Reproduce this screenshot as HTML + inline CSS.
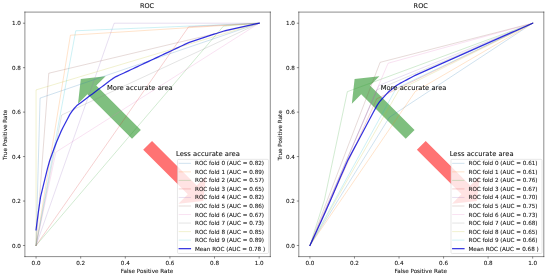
<!DOCTYPE html>
<html><head><meta charset="utf-8"><style>html,body{margin:0;padding:0;background:#fff;width:550px;height:275px;overflow:hidden}svg{display:block}text{text-rendering:geometricPrecision;stroke:#555;stroke-width:0.3px;stroke-opacity:0.5}</style></head><body>
<svg width="550" height="275" viewBox="0 0 975.177305 487.588652" version="1.1">
<defs>
<style type="text/css">*{stroke-linejoin: round; stroke-linecap: butt}</style>
</defs>
<g id="figure_1">
<g id="patch_1">
<path d="M 0 487.588652
L 975.177305 487.588652
L 975.177305 0
L 0 0
z
" style="fill: #ffffff"/>
</g>
<g id="axes_1">
<g id="patch_2">
<path d="M 44.148936 454.964539
L 479.255319 454.964539
L 479.255319 21.453901
L 44.148936 21.453901
z
" style="fill: #ffffff"/>
</g>
<g id="patch_3">
<path d="M 143.235525 139.88212
L 187.287799 135.005374
L 170.645829 151.58631
L 249.75608 230.406426
L 234.093049 246.012013
L 154.982798 167.191897
L 138.340828 183.772833
z
" clip-path="url(#p038cea119d)" style="fill: #008000; opacity: 0.5"/>
</g>
<g id="patch_4">
<path d="M 360.391167 356.241348
L 316.338894 361.118094
L 332.980864 344.537158
L 253.870612 265.717042
L 269.533643 250.111455
L 348.643894 328.931572
L 365.285865 312.350636
z
" clip-path="url(#p038cea119d)" style="fill: #ff0000; opacity: 0.55"/>
</g>
<g id="matplotlib.axis_1">
<g id="xtick_1">
<g id="line2d_1">
<g>
<path d="M 63.926 454.965 L 63.926 458.465" style="stroke: #000000; stroke-width: 0.8"/>
</g>
</g>
<g id="text_1">
<text style="font-size: 10px; font-family: 'DejaVu Sans', 'Liberation Sans', sans-serif; text-anchor: middle" x="63.926499" y="469.562977" transform="rotate(-0 63.926499 469.562977)">0.0</text>
</g>
</g>
<g id="xtick_2">
<g id="line2d_2">
<g>
<path d="M 143.037 454.965 L 143.037 458.465" style="stroke: #000000; stroke-width: 0.8"/>
</g>
</g>
<g id="text_2">
<text style="font-size: 10px; font-family: 'DejaVu Sans', 'Liberation Sans', sans-serif; text-anchor: middle" x="143.03675" y="469.562977" transform="rotate(-0 143.03675 469.562977)">0.2</text>
</g>
</g>
<g id="xtick_3">
<g id="line2d_3">
<g>
<path d="M 222.147 454.965 L 222.147 458.465" style="stroke: #000000; stroke-width: 0.8"/>
</g>
</g>
<g id="text_3">
<text style="font-size: 10px; font-family: 'DejaVu Sans', 'Liberation Sans', sans-serif; text-anchor: middle" x="222.147002" y="469.562977" transform="rotate(-0 222.147002 469.562977)">0.4</text>
</g>
</g>
<g id="xtick_4">
<g id="line2d_4">
<g>
<path d="M 301.257 454.965 L 301.257 458.465" style="stroke: #000000; stroke-width: 0.8"/>
</g>
</g>
<g id="text_4">
<text style="font-size: 10px; font-family: 'DejaVu Sans', 'Liberation Sans', sans-serif; text-anchor: middle" x="301.257253" y="469.562977" transform="rotate(-0 301.257253 469.562977)">0.6</text>
</g>
</g>
<g id="xtick_5">
<g id="line2d_5">
<g>
<path d="M 380.368 454.965 L 380.368 458.465" style="stroke: #000000; stroke-width: 0.8"/>
</g>
</g>
<g id="text_5">
<text style="font-size: 10px; font-family: 'DejaVu Sans', 'Liberation Sans', sans-serif; text-anchor: middle" x="380.367505" y="469.562977" transform="rotate(-0 380.367505 469.562977)">0.8</text>
</g>
</g>
<g id="xtick_6">
<g id="line2d_6">
<g>
<path d="M 459.478 454.965 L 459.478 458.465" style="stroke: #000000; stroke-width: 0.8"/>
</g>
</g>
<g id="text_6">
<text style="font-size: 10px; font-family: 'DejaVu Sans', 'Liberation Sans', sans-serif; text-anchor: middle" x="459.477756" y="469.562977" transform="rotate(-0 459.477756 469.562977)">1.0</text>
</g>
</g>
<g id="text_7">
<text style="font-size: 10px; font-family: 'DejaVu Sans', 'Liberation Sans', sans-serif; text-anchor: middle" x="260.638" y="483.241" transform="rotate(-0 260.638 483.241)">False Positive Rate</text>
</g>
</g>
<g id="matplotlib.axis_2">
<g id="ytick_1">
<g id="line2d_7">
<g>
<path d="M 44.149 435.260 L 40.649 435.260" style="stroke: #000000; stroke-width: 0.8"/>
</g>
</g>
<g id="text_8">
<text style="font-size: 10px; font-family: 'DejaVu Sans', 'Liberation Sans', sans-serif; text-anchor: end" x="37.148936" y="439.058729" transform="rotate(-0 37.148936 439.058729)">0.0</text>
</g>
</g>
<g id="ytick_2">
<g id="line2d_8">
<g>
<path d="M 44.149 356.439 L 40.649 356.439" style="stroke: #000000; stroke-width: 0.8"/>
</g>
</g>
<g id="text_9">
<text style="font-size: 10px; font-family: 'DejaVu Sans', 'Liberation Sans', sans-serif; text-anchor: end" x="37.148936" y="360.238613" transform="rotate(-0 37.148936 360.238613)">0.2</text>
</g>
</g>
<g id="ytick_3">
<g id="line2d_9">
<g>
<path d="M 44.149 277.619 L 40.649 277.619" style="stroke: #000000; stroke-width: 0.8"/>
</g>
</g>
<g id="text_10">
<text style="font-size: 10px; font-family: 'DejaVu Sans', 'Liberation Sans', sans-serif; text-anchor: end" x="37.148936" y="281.418497" transform="rotate(-0 37.148936 281.418497)">0.4</text>
</g>
</g>
<g id="ytick_4">
<g id="line2d_10">
<g>
<path d="M 44.149 198.799 L 40.649 198.799" style="stroke: #000000; stroke-width: 0.8"/>
</g>
</g>
<g id="text_11">
<text style="font-size: 10px; font-family: 'DejaVu Sans', 'Liberation Sans', sans-serif; text-anchor: end" x="37.148936" y="202.598381" transform="rotate(-0 37.148936 202.598381)">0.6</text>
</g>
</g>
<g id="ytick_5">
<g id="line2d_11">
<g>
<path d="M 44.149 119.979 L 40.649 119.979" style="stroke: #000000; stroke-width: 0.8"/>
</g>
</g>
<g id="text_12">
<text style="font-size: 10px; font-family: 'DejaVu Sans', 'Liberation Sans', sans-serif; text-anchor: end" x="37.148936" y="123.778265" transform="rotate(-0 37.148936 123.778265)">0.8</text>
</g>
</g>
<g id="ytick_6">
<g id="line2d_12">
<g>
<path d="M 44.149 41.159 L 40.649 41.159" style="stroke: #000000; stroke-width: 0.8"/>
</g>
</g>
<g id="text_13">
<text style="font-size: 10px; font-family: 'DejaVu Sans', 'Liberation Sans', sans-serif; text-anchor: end" x="37.148936" y="44.958148" transform="rotate(-0 37.148936 44.958148)">1.0</text>
</g>
</g>
<g id="text_14">
<text style="font-size: 10px; font-family: 'DejaVu Sans', 'Liberation Sans', sans-serif; text-anchor: middle" x="12.152" y="239.273" transform="rotate(-90 12.152 239.273)">True Positive Rate</text>
</g>
</g>
<g id="line2d_13">
<path d="M 63.926499 435.25951
L 71.046422 173.970825
L 459.477756 41.15893
" clip-path="url(#p038cea119d)" style="fill: none; stroke: #1f77b4; stroke-opacity: 0.3; stroke-width: 1.25; stroke-linecap: square"/>
</g>
<g id="line2d_14">
<path d="M 63.926499 435.25951
L 124.841393 62.440361
L 459.477756 41.15893
" clip-path="url(#p038cea119d)" style="fill: none; stroke: #ff7f0e; stroke-opacity: 0.3; stroke-width: 1.25; stroke-linecap: square"/>
</g>
<g id="line2d_15">
<path d="M 63.926499 435.25951
L 396.189555 46.282237
L 459.477756 41.15893
" clip-path="url(#p038cea119d)" style="fill: none; stroke: #2ca02c; stroke-opacity: 0.3; stroke-width: 1.25; stroke-linecap: square"/>
</g>
<g id="line2d_16">
<path d="M 63.926499 435.25951
L 334.483559 47.464539
L 459.477756 41.15893
" clip-path="url(#p038cea119d)" style="fill: none; stroke: #d62728; stroke-opacity: 0.3; stroke-width: 1.25; stroke-linecap: square"/>
</g>
<g id="line2d_17">
<path d="M 63.926499 435.25951
L 202.369439 41.15893
L 459.477756 41.15893
" clip-path="url(#p038cea119d)" style="fill: none; stroke: #9467bd; stroke-opacity: 0.3; stroke-width: 1.25; stroke-linecap: square"/>
</g>
<g id="line2d_18">
<path d="M 63.926499 435.25951
L 86.472921 129.83156
L 459.477756 41.15893
" clip-path="url(#p038cea119d)" style="fill: none; stroke: #8c564b; stroke-opacity: 0.3; stroke-width: 1.25; stroke-linecap: square"/>
</g>
<g id="line2d_19">
<path d="M 63.926499 435.25951
L 99.130561 269.737266
L 459.477756 41.15893
" clip-path="url(#p038cea119d)" style="fill: none; stroke: #e377c2; stroke-opacity: 0.3; stroke-width: 1.25; stroke-linecap: square"/>
</g>
<g id="line2d_20">
<path d="M 63.926499 435.25951
L 109.414894 203.922469
L 459.477756 41.15893
" clip-path="url(#p038cea119d)" style="fill: none; stroke: #7f7f7f; stroke-opacity: 0.3; stroke-width: 1.25; stroke-linecap: square"/>
</g>
<g id="line2d_21">
<path d="M 63.926499 435.25951
L 63.926499 159.389104
L 459.477756 41.15893
" clip-path="url(#p038cea119d)" style="fill: none; stroke: #bcbd22; stroke-opacity: 0.3; stroke-width: 1.25; stroke-linecap: square"/>
</g>
<g id="line2d_22">
<path d="M 63.926499 435.25951
L 134.334623 54.558349
L 459.477756 41.15893
" clip-path="url(#p038cea119d)" style="fill: none; stroke: #17becf; stroke-opacity: 0.3; stroke-width: 1.25; stroke-linecap: square"/>
</g>
<g id="line2d_23">
<path d="M 63.926499 407.672469
L 67.921966 376.783807
L 71.917434 349.061824
L 75.912901 332.699213
L 79.908368 316.336603
L 83.903835 299.973993
L 87.899303 285.50974
L 91.89477 274.464658
L 95.890237 263.419575
L 99.885704 252.681645
L 103.881171 243.261705
L 107.876639 233.841765
L 111.872106 225.557223
L 115.867573 217.983458
L 119.86304 210.409692
L 123.858508 202.835927
L 127.853975 197.086803
L 131.849442 191.932985
L 135.844909 187.589565
L 139.840377 184.579656
L 143.835844 181.569747
L 147.831311 178.559838
L 151.826778 175.54993
L 155.822246 172.540021
L 159.817713 169.530112
L 163.81318 166.520203
L 167.808647 163.510294
L 171.804115 160.500385
L 175.799582 157.490477
L 179.795049 154.480568
L 183.790516 151.470659
L 187.785984 148.46075
L 191.781451 145.450841
L 195.776918 142.440932
L 199.772385 139.431023
L 203.767853 136.819196
L 207.76332 134.946663
L 211.758787 133.074129
L 215.754254 131.201596
L 219.749722 129.329062
L 223.745189 127.456529
L 227.740656 125.583995
L 231.736123 123.711462
L 235.731591 121.838929
L 239.727058 119.966395
L 243.722525 118.093862
L 247.717992 116.221328
L 251.71346 114.348795
L 255.708927 112.476261
L 259.704394 110.603728
L 263.699861 108.731195
L 267.695329 106.858661
L 271.690796 104.986128
L 275.686263 103.113594
L 279.68173 101.241061
L 283.677198 99.368527
L 287.672665 97.495994
L 291.668132 95.623461
L 295.663599 93.750927
L 299.659066 91.878394
L 303.654534 90.00586
L 307.650001 88.133327
L 311.645468 86.260793
L 315.640935 84.38826
L 319.636403 82.515727
L 323.63187 80.643193
L 327.627337 78.77066
L 331.622804 76.898126
L 335.618272 75.182509
L 339.613739 73.862498
L 343.609206 72.542487
L 347.604673 71.222476
L 351.600141 69.902465
L 355.595608 68.582454
L 359.591075 67.262443
L 363.586542 65.942432
L 367.58201 64.622422
L 371.577477 63.302411
L 375.572944 61.9824
L 379.568411 60.662389
L 383.563879 59.342378
L 387.559346 58.022367
L 391.554813 56.702356
L 395.55028 55.382345
L 399.545748 54.428071
L 403.541215 53.543462
L 407.536682 52.658852
L 411.532149 51.774243
L 415.527617 50.889633
L 419.523084 50.005024
L 423.518551 49.120415
L 427.514018 48.235805
L 431.509486 47.351196
L 435.504953 46.466586
L 439.50042 45.581977
L 443.495887 44.697367
L 447.491355 43.812758
L 451.486822 42.928149
L 455.482289 42.043539
L 459.477756 41.15893
" clip-path="url(#p038cea119d)" style="fill: none; stroke: #0000d8; stroke-opacity: 0.8; stroke-width: 2.2; stroke-linecap: square"/>
</g>
<g id="patch_5">
<path d="M 44.148936 454.964539
L 44.148936 21.453901
" style="fill: none; stroke: #000000; stroke-width: 0.8; stroke-linejoin: miter; stroke-linecap: square"/>
</g>
<g id="patch_6">
<path d="M 479.255319 454.964539
L 479.255319 21.453901
" style="fill: none; stroke: #000000; stroke-width: 0.8; stroke-linejoin: miter; stroke-linecap: square"/>
</g>
<g id="patch_7">
<path d="M 44.148936 454.964539
L 479.255319 454.964539
" style="fill: none; stroke: #000000; stroke-width: 0.8; stroke-linejoin: miter; stroke-linecap: square"/>
</g>
<g id="patch_8">
<path d="M 44.148936 21.453901
L 479.255319 21.453901
" style="fill: none; stroke: #000000; stroke-width: 0.8; stroke-linejoin: miter; stroke-linecap: square"/>
</g>
<g id="text_15">
<text style="font-size: 12px; font-family: 'DejaVu Sans', 'Liberation Sans', sans-serif; text-anchor: start" x="189.616" y="159.389" transform="rotate(-0 189.616 159.389)">More accurate area</text>
</g>
<g id="text_16">
<text style="font-size: 12px; font-family: 'DejaVu Sans', 'Liberation Sans', sans-serif; text-anchor: start" x="312.060" y="276.201" transform="rotate(-0 312.060 276.201)">Less accurate area</text>
</g>
<g id="text_17">
<text style="font-size: 11.5px; font-family: 'DejaVu Sans', 'Liberation Sans', sans-serif; text-anchor: middle" x="260.638" y="14.745" transform="rotate(-0 260.638 14.745)">ROC</text>
</g>
<g id="legend_1">
<g id="patch_9">
<path d="M 316.698 449.467624
L 474.066 449.467624
Q 476.066 449.467624 476.066 447.467624
L 476.066 284.508249
Q 476.066 282.508249 474.066 282.508249
L 316.698 282.508249
Q 314.698 282.508249 314.698 284.508249
L 314.698 447.467624
Q 314.698 449.467624 316.698 449.467624
z
" style="fill: #ffffff; opacity: 0.8; stroke: #cccccc; stroke-linejoin: miter"/>
</g>
<g id="line2d_24">
<path d="M 317.697846 289.606687
L 327.697846 289.606687
L 337.697846 289.606687
" style="fill: none; stroke: #1f77b4; stroke-opacity: 0.3; stroke-width: 1.25; stroke-linecap: square"/>
</g>
<g id="text_18">
<text style="font-size: 10px; font-family: 'DejaVu Sans', 'Liberation Sans', sans-serif; text-anchor: start" x="345.697846" y="293.106687" transform="rotate(-0 345.697846 293.106687)">ROC fold 0 (AUC = 0.82)</text>
</g>
<g id="line2d_25">
<path d="M 317.697846 304.734812
L 327.697846 304.734812
L 337.697846 304.734812
" style="fill: none; stroke: #ff7f0e; stroke-opacity: 0.3; stroke-width: 1.25; stroke-linecap: square"/>
</g>
<g id="text_19">
<text style="font-size: 10px; font-family: 'DejaVu Sans', 'Liberation Sans', sans-serif; text-anchor: start" x="345.697846" y="308.234812" transform="rotate(-0 345.697846 308.234812)">ROC fold 1 (AUC = 0.89)</text>
</g>
<g id="line2d_26">
<path d="M 317.697846 319.862937
L 327.697846 319.862937
L 337.697846 319.862937
" style="fill: none; stroke: #2ca02c; stroke-opacity: 0.3; stroke-width: 1.25; stroke-linecap: square"/>
</g>
<g id="text_20">
<text style="font-size: 10px; font-family: 'DejaVu Sans', 'Liberation Sans', sans-serif; text-anchor: start" x="345.697846" y="323.362937" transform="rotate(-0 345.697846 323.362937)">ROC fold 2 (AUC = 0.57)</text>
</g>
<g id="line2d_27">
<path d="M 317.697846 334.991062
L 327.697846 334.991062
L 337.697846 334.991062
" style="fill: none; stroke: #d62728; stroke-opacity: 0.3; stroke-width: 1.25; stroke-linecap: square"/>
</g>
<g id="text_21">
<text style="font-size: 10px; font-family: 'DejaVu Sans', 'Liberation Sans', sans-serif; text-anchor: start" x="345.697846" y="338.491062" transform="rotate(-0 345.697846 338.491062)">ROC fold 3 (AUC = 0.65)</text>
</g>
<g id="line2d_28">
<path d="M 317.697846 350.119187
L 327.697846 350.119187
L 337.697846 350.119187
" style="fill: none; stroke: #9467bd; stroke-opacity: 0.3; stroke-width: 1.25; stroke-linecap: square"/>
</g>
<g id="text_22">
<text style="font-size: 10px; font-family: 'DejaVu Sans', 'Liberation Sans', sans-serif; text-anchor: start" x="345.697846" y="353.619187" transform="rotate(-0 345.697846 353.619187)">ROC fold 4 (AUC = 0.82)</text>
</g>
<g id="line2d_29">
<path d="M 317.697846 365.247312
L 327.697846 365.247312
L 337.697846 365.247312
" style="fill: none; stroke: #8c564b; stroke-opacity: 0.3; stroke-width: 1.25; stroke-linecap: square"/>
</g>
<g id="text_23">
<text style="font-size: 10px; font-family: 'DejaVu Sans', 'Liberation Sans', sans-serif; text-anchor: start" x="345.697846" y="368.747312" transform="rotate(-0 345.697846 368.747312)">ROC fold 5 (AUC = 0.86)</text>
</g>
<g id="line2d_30">
<path d="M 317.697846 380.375437
L 327.697846 380.375437
L 337.697846 380.375437
" style="fill: none; stroke: #e377c2; stroke-opacity: 0.3; stroke-width: 1.25; stroke-linecap: square"/>
</g>
<g id="text_24">
<text style="font-size: 10px; font-family: 'DejaVu Sans', 'Liberation Sans', sans-serif; text-anchor: start" x="345.697846" y="383.875437" transform="rotate(-0 345.697846 383.875437)">ROC fold 6 (AUC = 0.67)</text>
</g>
<g id="line2d_31">
<path d="M 317.697846 395.503562
L 327.697846 395.503562
L 337.697846 395.503562
" style="fill: none; stroke: #7f7f7f; stroke-opacity: 0.3; stroke-width: 1.25; stroke-linecap: square"/>
</g>
<g id="text_25">
<text style="font-size: 10px; font-family: 'DejaVu Sans', 'Liberation Sans', sans-serif; text-anchor: start" x="345.697846" y="399.003562" transform="rotate(-0 345.697846 399.003562)">ROC fold 7 (AUC = 0.73)</text>
</g>
<g id="line2d_32">
<path d="M 317.697846 410.631687
L 327.697846 410.631687
L 337.697846 410.631687
" style="fill: none; stroke: #bcbd22; stroke-opacity: 0.3; stroke-width: 1.25; stroke-linecap: square"/>
</g>
<g id="text_26">
<text style="font-size: 10px; font-family: 'DejaVu Sans', 'Liberation Sans', sans-serif; text-anchor: start" x="345.697846" y="414.131687" transform="rotate(-0 345.697846 414.131687)">ROC fold 8 (AUC = 0.85)</text>
</g>
<g id="line2d_33">
<path d="M 317.697846 425.759812
L 327.697846 425.759812
L 337.697846 425.759812
" style="fill: none; stroke: #17becf; stroke-opacity: 0.3; stroke-width: 1.25; stroke-linecap: square"/>
</g>
<g id="text_27">
<text style="font-size: 10px; font-family: 'DejaVu Sans', 'Liberation Sans', sans-serif; text-anchor: start" x="345.697846" y="429.259812" transform="rotate(-0 345.697846 429.259812)">ROC fold 9 (AUC = 0.89)</text>
</g>
<g id="line2d_34">
<path d="M 317.697846 440.887937
L 327.697846 440.887937
L 337.697846 440.887937
" style="fill: none; stroke: #0000d8; stroke-opacity: 0.8; stroke-width: 2.2; stroke-linecap: square"/>
</g>
<g id="text_28">
<text style="font-size: 10px; font-family: 'DejaVu Sans', 'Liberation Sans', sans-serif; text-anchor: start" x="345.697846" y="444.387937" transform="rotate(-0 345.697846 444.387937)">Mean ROC (AUC = 0.78 )</text>
</g>
</g>
</g>
<g id="axes_2">
<g id="patch_10">
<path d="M 529.787234 454.964539
L 964.184397 454.964539
L 964.184397 21.453901
L 529.787234 21.453901
z
" style="fill: #ffffff"/>
</g>
<g id="patch_11">
<path d="M 628.712313 139.88212
L 672.692781 135.005374
L 656.077938 151.58631
L 735.05924 230.406426
L 719.42174 246.012013
L 640.440438 167.191897
L 623.825594 183.772833
z
" clip-path="url(#pa79ba5403b)" style="fill: #008000; opacity: 0.5"/>
</g>
<g id="patch_12">
<path d="M 845.513993 356.241348
L 801.533524 361.118094
L 818.148368 344.537158
L 739.167066 265.717042
L 754.804566 250.111455
L 833.785868 328.931572
L 850.400712 312.350636
z
" clip-path="url(#pa79ba5403b)" style="fill: #ff0000; opacity: 0.55"/>
</g>
<g id="matplotlib.axis_3">
<g id="xtick_7">
<g id="line2d_35">
<g>
<path d="M 549.533 454.965 L 549.533 458.465" style="stroke: #000000; stroke-width: 0.8"/>
</g>
</g>
<g id="text_29">
<text style="font-size: 10px; font-family: 'DejaVu Sans', 'Liberation Sans', sans-serif; text-anchor: middle" x="549.53256" y="469.562977" transform="rotate(-0 549.53256 469.562977)">0.0</text>
</g>
</g>
<g id="xtick_8">
<g id="line2d_36">
<g>
<path d="M 628.514 454.965 L 628.514 458.465" style="stroke: #000000; stroke-width: 0.8"/>
</g>
</g>
<g id="text_30">
<text style="font-size: 10px; font-family: 'DejaVu Sans', 'Liberation Sans', sans-serif; text-anchor: middle" x="628.513862" y="469.562977" transform="rotate(-0 628.513862 469.562977)">0.2</text>
</g>
</g>
<g id="xtick_9">
<g id="line2d_37">
<g>
<path d="M 707.495 454.965 L 707.495 458.465" style="stroke: #000000; stroke-width: 0.8"/>
</g>
</g>
<g id="text_31">
<text style="font-size: 10px; font-family: 'DejaVu Sans', 'Liberation Sans', sans-serif; text-anchor: middle" x="707.495164" y="469.562977" transform="rotate(-0 707.495164 469.562977)">0.4</text>
</g>
</g>
<g id="xtick_10">
<g id="line2d_38">
<g>
<path d="M 786.476 454.965 L 786.476 458.465" style="stroke: #000000; stroke-width: 0.8"/>
</g>
</g>
<g id="text_32">
<text style="font-size: 10px; font-family: 'DejaVu Sans', 'Liberation Sans', sans-serif; text-anchor: middle" x="786.476467" y="469.562977" transform="rotate(-0 786.476467 469.562977)">0.6</text>
</g>
</g>
<g id="xtick_11">
<g id="line2d_39">
<g>
<path d="M 865.458 454.965 L 865.458 458.465" style="stroke: #000000; stroke-width: 0.8"/>
</g>
</g>
<g id="text_33">
<text style="font-size: 10px; font-family: 'DejaVu Sans', 'Liberation Sans', sans-serif; text-anchor: middle" x="865.457769" y="469.562977" transform="rotate(-0 865.457769 469.562977)">0.8</text>
</g>
</g>
<g id="xtick_12">
<g id="line2d_40">
<g>
<path d="M 944.439 454.965 L 944.439 458.465" style="stroke: #000000; stroke-width: 0.8"/>
</g>
</g>
<g id="text_34">
<text style="font-size: 10px; font-family: 'DejaVu Sans', 'Liberation Sans', sans-serif; text-anchor: middle" x="944.439072" y="469.562977" transform="rotate(-0 944.439072 469.562977)">1.0</text>
</g>
</g>
<g id="text_35">
<text style="font-size: 10px; font-family: 'DejaVu Sans', 'Liberation Sans', sans-serif; text-anchor: middle" x="745.922" y="483.241" transform="rotate(-0 745.922 483.241)">False Positive Rate</text>
</g>
</g>
<g id="matplotlib.axis_4">
<g id="ytick_7">
<g id="line2d_41">
<g>
<path d="M 529.787 435.260 L 526.287 435.260" style="stroke: #000000; stroke-width: 0.8"/>
</g>
</g>
<g id="text_36">
<text style="font-size: 10px; font-family: 'DejaVu Sans', 'Liberation Sans', sans-serif; text-anchor: end" x="522.787234" y="439.058729" transform="rotate(-0 522.787234 439.058729)">0.0</text>
</g>
</g>
<g id="ytick_8">
<g id="line2d_42">
<g>
<path d="M 529.787 356.439 L 526.287 356.439" style="stroke: #000000; stroke-width: 0.8"/>
</g>
</g>
<g id="text_37">
<text style="font-size: 10px; font-family: 'DejaVu Sans', 'Liberation Sans', sans-serif; text-anchor: end" x="522.787234" y="360.238613" transform="rotate(-0 522.787234 360.238613)">0.2</text>
</g>
</g>
<g id="ytick_9">
<g id="line2d_43">
<g>
<path d="M 529.787 277.619 L 526.287 277.619" style="stroke: #000000; stroke-width: 0.8"/>
</g>
</g>
<g id="text_38">
<text style="font-size: 10px; font-family: 'DejaVu Sans', 'Liberation Sans', sans-serif; text-anchor: end" x="522.787234" y="281.418497" transform="rotate(-0 522.787234 281.418497)">0.4</text>
</g>
</g>
<g id="ytick_10">
<g id="line2d_44">
<g>
<path d="M 529.787 198.799 L 526.287 198.799" style="stroke: #000000; stroke-width: 0.8"/>
</g>
</g>
<g id="text_39">
<text style="font-size: 10px; font-family: 'DejaVu Sans', 'Liberation Sans', sans-serif; text-anchor: end" x="522.787234" y="202.598381" transform="rotate(-0 522.787234 202.598381)">0.6</text>
</g>
</g>
<g id="ytick_11">
<g id="line2d_45">
<g>
<path d="M 529.787 119.979 L 526.287 119.979" style="stroke: #000000; stroke-width: 0.8"/>
</g>
</g>
<g id="text_40">
<text style="font-size: 10px; font-family: 'DejaVu Sans', 'Liberation Sans', sans-serif; text-anchor: end" x="522.787234" y="123.778265" transform="rotate(-0 522.787234 123.778265)">0.8</text>
</g>
</g>
<g id="ytick_12">
<g id="line2d_46">
<g>
<path d="M 529.787 41.159 L 526.287 41.159" style="stroke: #000000; stroke-width: 0.8"/>
</g>
</g>
<g id="text_41">
<text style="font-size: 10px; font-family: 'DejaVu Sans', 'Liberation Sans', sans-serif; text-anchor: end" x="522.787234" y="44.958148" transform="rotate(-0 522.787234 44.958148)">1.0</text>
</g>
</g>
<g id="text_42">
<text style="font-size: 10px; font-family: 'DejaVu Sans', 'Liberation Sans', sans-serif; text-anchor: middle" x="500.095" y="239.982" transform="rotate(-90 500.095 239.982)">True Positive Rate</text>
</g>
</g>
<g id="line2d_47">
<path d="M 549.53256 435.25951
L 690.514184 207.863475
L 944.439072 41.15893
" clip-path="url(#pa79ba5403b)" style="fill: none; stroke: #1f77b4; stroke-opacity: 0.3; stroke-width: 1.25; stroke-linecap: square"/>
</g>
<g id="line2d_48">
<path d="M 549.53256 435.25951
L 736.32334 162.147808
L 944.439072 41.15893
" clip-path="url(#pa79ba5403b)" style="fill: none; stroke: #ff7f0e; stroke-opacity: 0.3; stroke-width: 1.25; stroke-linecap: square"/>
</g>
<g id="line2d_49">
<path d="M 549.53256 435.25951
L 575.201483 354.468891
L 615.876854 162.541908
L 944.439072 41.15893
" clip-path="url(#pa79ba5403b)" style="fill: none; stroke: #2ca02c; stroke-opacity: 0.3; stroke-width: 1.25; stroke-linecap: square"/>
</g>
<g id="line2d_50">
<path d="M 549.53256 435.25951
L 668.004513 175.153127
L 944.439072 41.15893
" clip-path="url(#pa79ba5403b)" style="fill: none; stroke: #d62728; stroke-opacity: 0.3; stroke-width: 1.25; stroke-linecap: square"/>
</g>
<g id="line2d_51">
<path d="M 549.53256 435.25951
L 671.953578 151.507092
L 944.439072 41.15893
" clip-path="url(#pa79ba5403b)" style="fill: none; stroke: #9467bd; stroke-opacity: 0.3; stroke-width: 1.25; stroke-linecap: square"/>
</g>
<g id="line2d_52">
<path d="M 549.53256 435.25951
L 673.928111 110.520632
L 944.439072 41.15893
" clip-path="url(#pa79ba5403b)" style="fill: none; stroke: #8c564b; stroke-opacity: 0.3; stroke-width: 1.25; stroke-linecap: square"/>
</g>
<g id="line2d_53">
<path d="M 549.53256 435.25951
L 688.144745 112.097034
L 944.439072 41.15893
" clip-path="url(#pa79ba5403b)" style="fill: none; stroke: #e377c2; stroke-opacity: 0.3; stroke-width: 1.25; stroke-linecap: square"/>
</g>
<g id="line2d_54">
<path d="M 549.53256 435.25951
L 668.004513 159.389104
L 944.439072 41.15893
" clip-path="url(#pa79ba5403b)" style="fill: none; stroke: #7f7f7f; stroke-opacity: 0.3; stroke-width: 1.25; stroke-linecap: square"/>
</g>
<g id="line2d_55">
<path d="M 549.53256 435.25951
L 707.495164 159.389104
L 944.439072 41.15893
" clip-path="url(#pa79ba5403b)" style="fill: none; stroke: #bcbd22; stroke-opacity: 0.3; stroke-width: 1.25; stroke-linecap: square"/>
</g>
<g id="line2d_56">
<path d="M 549.53256 435.25951
L 702.36138 156.6304
L 944.439072 41.15893
" clip-path="url(#pa79ba5403b)" style="fill: none; stroke: #17becf; stroke-opacity: 0.3; stroke-width: 1.25; stroke-linecap: square"/>
</g>
<g id="line2d_57">
<path d="M 549.53256 435.25951
L 553.521514 426.65297
L 557.510469 418.046429
L 561.499424 409.439889
L 565.488378 400.833349
L 569.477333 392.226808
L 573.466288 383.620268
L 577.455242 374.659641
L 581.444197 365.426397
L 585.433152 356.193154
L 589.422106 346.95991
L 593.411061 337.726667
L 597.400016 328.493423
L 601.38897 319.26018
L 605.377925 310.026936
L 609.36688 300.793693
L 613.355834 291.560449
L 617.344789 282.965621
L 621.333744 275.467201
L 625.322698 267.968782
L 629.311653 260.470362
L 633.300608 252.971943
L 637.289562 245.473523
L 641.278517 237.975104
L 645.267472 230.476684
L 649.256426 222.978265
L 653.245381 215.479845
L 657.234336 207.981426
L 661.22329 200.483006
L 665.212245 192.984587
L 669.2012 185.91837
L 673.190154 180.097167
L 677.179109 175.567784
L 681.168064 171.212126
L 685.157018 166.856467
L 689.145973 162.706524
L 693.134928 159.421106
L 697.123882 156.266549
L 701.112837 153.111992
L 705.101792 150.326333
L 709.090746 147.907787
L 713.079701 145.787802
L 717.068656 143.667817
L 721.05761 141.547832
L 725.046565 139.427847
L 729.03552 137.307862
L 733.024474 135.187877
L 737.013429 133.128673
L 741.002384 131.360024
L 744.991338 129.591375
L 748.980293 127.822726
L 752.969248 126.054077
L 756.958202 124.285428
L 760.947157 122.51678
L 764.936112 120.748131
L 768.925066 118.979482
L 772.914021 117.210833
L 776.902976 115.442184
L 780.89193 113.673535
L 784.880885 111.904886
L 788.86984 110.136237
L 792.858794 108.367588
L 796.847749 106.598939
L 800.836704 104.83029
L 804.825658 103.061642
L 808.814613 101.292993
L 812.803568 99.524344
L 816.792522 97.755695
L 820.781477 95.987046
L 824.770432 94.218397
L 828.759386 92.449748
L 832.748341 90.681099
L 836.737296 88.91245
L 840.72625 87.143801
L 844.715205 85.375152
L 848.70416 83.606504
L 852.693114 81.837855
L 856.682069 80.069206
L 860.671024 78.300557
L 864.659978 76.531908
L 868.648933 74.763259
L 872.637888 72.99461
L 876.626842 71.225961
L 880.615797 69.457312
L 884.604752 67.688663
L 888.593706 65.920014
L 892.582661 64.151366
L 896.571616 62.382717
L 900.56057 60.614068
L 904.549525 58.845419
L 908.53848 57.07677
L 912.527434 55.308121
L 916.516389 53.539472
L 920.505344 51.770823
L 924.494298 50.002174
L 928.483253 48.233525
L 932.472208 46.464876
L 936.461162 44.696228
L 940.450117 42.927579
L 944.439072 41.15893
" clip-path="url(#pa79ba5403b)" style="fill: none; stroke: #0000d8; stroke-opacity: 0.8; stroke-width: 2.2; stroke-linecap: square"/>
</g>
<g id="patch_13">
<path d="M 529.787234 454.964539
L 529.787234 21.453901
" style="fill: none; stroke: #000000; stroke-width: 0.8; stroke-linejoin: miter; stroke-linecap: square"/>
</g>
<g id="patch_14">
<path d="M 964.184397 454.964539
L 964.184397 21.453901
" style="fill: none; stroke: #000000; stroke-width: 0.8; stroke-linejoin: miter; stroke-linecap: square"/>
</g>
<g id="patch_15">
<path d="M 529.787234 454.964539
L 964.184397 454.964539
" style="fill: none; stroke: #000000; stroke-width: 0.8; stroke-linejoin: miter; stroke-linecap: square"/>
</g>
<g id="patch_16">
<path d="M 529.787234 21.453901
L 964.184397 21.453901
" style="fill: none; stroke: #000000; stroke-width: 0.8; stroke-linejoin: miter; stroke-linecap: square"/>
</g>
<g id="text_43">
<text style="font-size: 12px; font-family: 'DejaVu Sans', 'Liberation Sans', sans-serif; text-anchor: start" x="675.016" y="159.389" transform="rotate(-0 675.016 159.389)">More accurate area</text>
</g>
<g id="text_44">
<text style="font-size: 12px; font-family: 'DejaVu Sans', 'Liberation Sans', sans-serif; text-anchor: start" x="797.260" y="276.201" transform="rotate(-0 797.260 276.201)">Less accurate area</text>
</g>
<g id="text_45">
<text style="font-size: 11.5px; font-family: 'DejaVu Sans', 'Liberation Sans', sans-serif; text-anchor: middle" x="745.922" y="14.745" transform="rotate(-0 745.922 14.745)">ROC</text>
</g>
<g id="legend_2">
<g id="patch_17">
<path d="M 801.637 449.467624
L 959.005 449.467624
Q 961.005 449.467624 961.005 447.467624
L 961.005 284.508249
Q 961.005 282.508249 959.005 282.508249
L 801.637 282.508249
Q 799.637 282.508249 799.637 284.508249
L 799.637 447.467624
Q 799.637 449.467624 801.637 449.467624
z
" style="fill: #ffffff; opacity: 0.8; stroke: #cccccc; stroke-linejoin: miter"/>
</g>
<g id="line2d_58">
<path d="M 802.636746 289.606687
L 812.636746 289.606687
L 822.636746 289.606687
" style="fill: none; stroke: #1f77b4; stroke-opacity: 0.3; stroke-width: 1.25; stroke-linecap: square"/>
</g>
<g id="text_46">
<text style="font-size: 10px; font-family: 'DejaVu Sans', 'Liberation Sans', sans-serif; text-anchor: start" x="830.636746" y="293.106687" transform="rotate(-0 830.636746 293.106687)">ROC fold 0 (AUC = 0.61)</text>
</g>
<g id="line2d_59">
<path d="M 802.636746 304.734812
L 812.636746 304.734812
L 822.636746 304.734812
" style="fill: none; stroke: #ff7f0e; stroke-opacity: 0.3; stroke-width: 1.25; stroke-linecap: square"/>
</g>
<g id="text_47">
<text style="font-size: 10px; font-family: 'DejaVu Sans', 'Liberation Sans', sans-serif; text-anchor: start" x="830.636746" y="308.234812" transform="rotate(-0 830.636746 308.234812)">ROC fold 1 (AUC = 0.61)</text>
</g>
<g id="line2d_60">
<path d="M 802.636746 319.862937
L 812.636746 319.862937
L 822.636746 319.862937
" style="fill: none; stroke: #2ca02c; stroke-opacity: 0.3; stroke-width: 1.25; stroke-linecap: square"/>
</g>
<g id="text_48">
<text style="font-size: 10px; font-family: 'DejaVu Sans', 'Liberation Sans', sans-serif; text-anchor: start" x="830.636746" y="323.362937" transform="rotate(-0 830.636746 323.362937)">ROC fold 2 (AUC = 0.76)</text>
</g>
<g id="line2d_61">
<path d="M 802.636746 334.991062
L 812.636746 334.991062
L 822.636746 334.991062
" style="fill: none; stroke: #d62728; stroke-opacity: 0.3; stroke-width: 1.25; stroke-linecap: square"/>
</g>
<g id="text_49">
<text style="font-size: 10px; font-family: 'DejaVu Sans', 'Liberation Sans', sans-serif; text-anchor: start" x="830.636746" y="338.491062" transform="rotate(-0 830.636746 338.491062)">ROC fold 3 (AUC = 0.67)</text>
</g>
<g id="line2d_62">
<path d="M 802.636746 350.119187
L 812.636746 350.119187
L 822.636746 350.119187
" style="fill: none; stroke: #9467bd; stroke-opacity: 0.3; stroke-width: 1.25; stroke-linecap: square"/>
</g>
<g id="text_50">
<text style="font-size: 10px; font-family: 'DejaVu Sans', 'Liberation Sans', sans-serif; text-anchor: start" x="830.636746" y="353.619187" transform="rotate(-0 830.636746 353.619187)">ROC fold 4 (AUC = 0.70)</text>
</g>
<g id="line2d_63">
<path d="M 802.636746 365.247312
L 812.636746 365.247312
L 822.636746 365.247312
" style="fill: none; stroke: #8c564b; stroke-opacity: 0.3; stroke-width: 1.25; stroke-linecap: square"/>
</g>
<g id="text_51">
<text style="font-size: 10px; font-family: 'DejaVu Sans', 'Liberation Sans', sans-serif; text-anchor: start" x="830.636746" y="368.747312" transform="rotate(-0 830.636746 368.747312)">ROC fold 5 (AUC = 0.75)</text>
</g>
<g id="line2d_64">
<path d="M 802.636746 380.375437
L 812.636746 380.375437
L 822.636746 380.375437
" style="fill: none; stroke: #e377c2; stroke-opacity: 0.3; stroke-width: 1.25; stroke-linecap: square"/>
</g>
<g id="text_52">
<text style="font-size: 10px; font-family: 'DejaVu Sans', 'Liberation Sans', sans-serif; text-anchor: start" x="830.636746" y="383.875437" transform="rotate(-0 830.636746 383.875437)">ROC fold 6 (AUC = 0.73)</text>
</g>
<g id="line2d_65">
<path d="M 802.636746 395.503562
L 812.636746 395.503562
L 822.636746 395.503562
" style="fill: none; stroke: #7f7f7f; stroke-opacity: 0.3; stroke-width: 1.25; stroke-linecap: square"/>
</g>
<g id="text_53">
<text style="font-size: 10px; font-family: 'DejaVu Sans', 'Liberation Sans', sans-serif; text-anchor: start" x="830.636746" y="399.003562" transform="rotate(-0 830.636746 399.003562)">ROC fold 7 (AUC = 0.68)</text>
</g>
<g id="line2d_66">
<path d="M 802.636746 410.631687
L 812.636746 410.631687
L 822.636746 410.631687
" style="fill: none; stroke: #bcbd22; stroke-opacity: 0.3; stroke-width: 1.25; stroke-linecap: square"/>
</g>
<g id="text_54">
<text style="font-size: 10px; font-family: 'DejaVu Sans', 'Liberation Sans', sans-serif; text-anchor: start" x="830.636746" y="414.131687" transform="rotate(-0 830.636746 414.131687)">ROC fold 8 (AUC = 0.65)</text>
</g>
<g id="line2d_67">
<path d="M 802.636746 425.759812
L 812.636746 425.759812
L 822.636746 425.759812
" style="fill: none; stroke: #17becf; stroke-opacity: 0.3; stroke-width: 1.25; stroke-linecap: square"/>
</g>
<g id="text_55">
<text style="font-size: 10px; font-family: 'DejaVu Sans', 'Liberation Sans', sans-serif; text-anchor: start" x="830.636746" y="429.259812" transform="rotate(-0 830.636746 429.259812)">ROC fold 9 (AUC = 0.66)</text>
</g>
<g id="line2d_68">
<path d="M 802.636746 440.887937
L 812.636746 440.887937
L 822.636746 440.887937
" style="fill: none; stroke: #0000d8; stroke-opacity: 0.8; stroke-width: 2.2; stroke-linecap: square"/>
</g>
<g id="text_56">
<text style="font-size: 10px; font-family: 'DejaVu Sans', 'Liberation Sans', sans-serif; text-anchor: start" x="830.636746" y="444.387937" transform="rotate(-0 830.636746 444.387937)">Mean ROC (AUC = 0.68 )</text>
</g>
</g>
</g>
</g>
<defs>
<clipPath id="p038cea119d">
<rect x="44.148936" y="21.453901" width="435.106383" height="433.510638"/>
</clipPath>
<clipPath id="pa79ba5403b">
<rect x="529.787234" y="21.453901" width="434.397163" height="433.510638"/>
</clipPath>
</defs>
</svg>
</body></html>
